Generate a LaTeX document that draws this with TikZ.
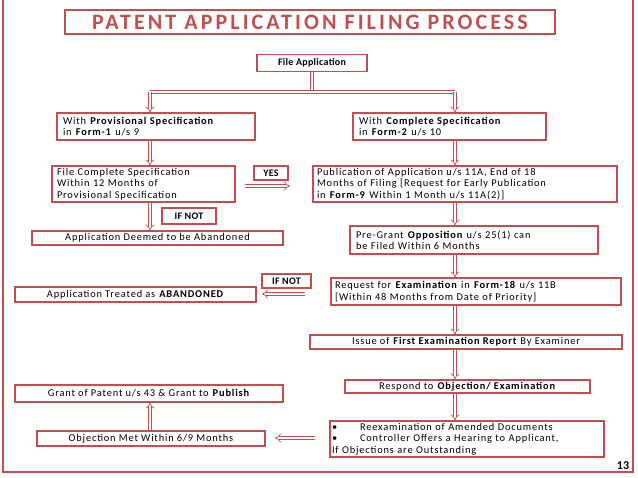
\documentclass[tikz,border=0pt]{standalone}
\usepackage{fontspec}
\setmainfont{Carlito}
\usetikzlibrary{arrows.meta,positioning}
\definecolor{rb}{HTML}{C0504D}
\begin{document}
\begin{tikzpicture}[x=1pt,y=-1pt,
 bx/.style={draw=rb,line width=1.2pt,font=\fontsize{10.4}{11.5}\selectfont\addfontfeature{LetterSpace=8},align=left,inner sep=2pt,text=black},
 bb/.style={bx,font=\fontsize{10}{11}\bfseries\selectfont\addfontfeature{LetterSpace=3},align=center},
 dar/.style={draw=rb,double=white,double distance=2.4pt,line width=0.7pt,-{Implies[length=4pt]}},
 dln/.style={draw=rb,double=white,double distance=2.4pt,line width=0.7pt}]
\useasboundingbox (0,0) rectangle (638,478);
\draw[rb,line width=1.2pt] (3,0) -- (3,472) -- (633,472) -- (633,0);
\node[draw=rb,line width=1.2pt,text=rb,font=\fontsize{22}{24}\bfseries\selectfont\addfontfeature{LetterSpace=14},minimum width=490pt,minimum height=24pt,inner sep=1pt] (title) at (310,22) {PATENT APPLICATION FILING PROCESS};
\node[bb,minimum width=110pt,minimum height=17pt] (fa) at (312,63) {File Application};
\node[bx,minimum width=198pt,minimum height=27pt,text width=186pt] (prov) at (156,126.5) {With \textbf{Provisional Specification}\\in \textbf{Form-1} u/s 9};
\node[bx,minimum width=193pt,minimum height=27pt,text width=181pt] (comp) at (449.5,126.5) {With \textbf{Complete Specification}\\in \textbf{Form-2} u/s 10};
\node[bx,minimum width=183pt,minimum height=36pt,text width=173pt] (fcs) at (143.5,184) {File Complete Specification\\Within 12 Months of\\Provisional Specification};
\node[bb,minimum width=34pt,minimum height=14pt] (yes) at (271,173) {YES};
\node[bx,minimum width=304pt,minimum height=36pt,text width=296pt] (pub) at (465,184) {Publication of Application u/s 11A, End of 18\\Months of Filing [Request for Early Publication\\in \textbf{Form-9} Within 1 Month u/s 11A(2)]};
\node[bb,minimum width=54pt,minimum height=16pt] (ifn1) at (189,216) {IF NOT};
\node[bx,minimum width=251pt,minimum height=14pt,align=center] (deem) at (157.5,238) {Application Deemed to be Abandoned};
\node[bx,minimum width=248pt,minimum height=28pt,text width=236pt] (pre) at (474,240) {Pre-Grant \textbf{Opposition} u/s 25(1) can\\be Filed Within 6 Months};
\node[bb,minimum width=49pt,minimum height=14pt] (ifn2) at (286.5,281) {IF NOT};
\node[bx,minimum width=241pt,minimum height=15pt,align=center] (aband) at (135.5,294.5) {Application Treated as \textbf{ABANDONED}};
\node[bx,minimum width=290pt,minimum height=27pt,text width=282pt] (req) at (476,291.5) {Request for \textbf{Examination} in \textbf{Form-18} u/s 11B\\{[}Within 48 Months from Date of Priority{]}};
\node[bx,minimum width=312pt,minimum height=14pt,align=center] (fer) at (466,342) {Issue of \textbf{First Examination Report} By Examiner};
\node[bx,minimum width=245pt,minimum height=13pt,align=center] (resp) at (467.5,386.5) {Respond to \textbf{Objection/ Examination}};
\node[bx,minimum width=274pt,minimum height=36pt,text width=270pt] (reex) at (467,439) {\textbullet\hspace{2.2em}Reexamination of Amended Documents\\\textbullet\hspace{2.2em}Controller Offers a Hearing to Applicant,\\If Objections are Outstanding};
\node[bx,minimum width=268pt,minimum height=17pt,align=center] (grant) at (149,393.5) {Grant of Patent u/s 43 \& Grant to \textbf{Publish}};
\node[bx,minimum width=228pt,minimum height=15pt,align=center] (obj) at (151,438.5) {Objection Met Within 6/9 Months};
\node[font=\fontsize{12}{13}\bfseries\selectfont] (pg) at (623,466) {13};
\coordinate (j) at (312,92);
\coordinate (jl) at (150,92);
\coordinate (jr) at (455,92);
\coordinate (ya) at (245,186);
\coordinate (yb) at (290,186);
\coordinate (na) at (305,294);
\coordinate (nb) at (262,294);
\coordinate (oa) at (315,438);
\coordinate (ob) at (275,438);
\draw[dln] (fa.south) -- (j);
\draw[dln] (jl) -- (jr);
\draw[dar] (jl) -- (jl|-prov.north);
\draw[dar] (jr) -- (jr|-comp.north);
\draw[dar] (prov.south-|jl) -- (fcs.north-|jl);
\draw[dar] (fcs.south-|jl) -- (deem.north-|jl);
\draw[dar] (ya) -- (yb);
\draw[dar] (comp.south-|jr) -- (pub.north-|jr);
\draw[dar] (pub.south-|jr) -- (pre.north-|jr);
\draw[dar] (pre.south-|jr) -- (req.north-|jr);
\draw[dar] (req.south-|jr) -- (fer.north-|jr);
\draw[dar] (fer.south-|jr) -- (resp.north-|jr);
\draw[dar] (resp.south-|jr) -- (reex.north-|jr);
\draw[dar] (na) -- (nb);
\draw[dar] (oa) -- (ob);
\draw[dar] (obj.north-|jl) -- (grant.south-|jl);
\end{tikzpicture}
\end{document}
